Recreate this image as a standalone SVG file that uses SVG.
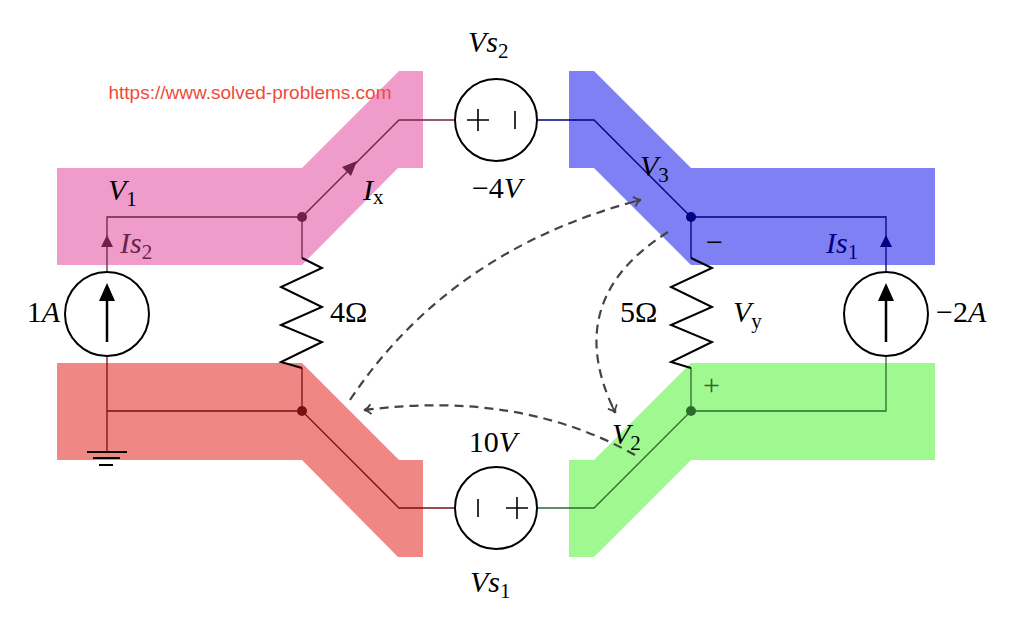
<svg xmlns="http://www.w3.org/2000/svg" width="1024" height="634" viewBox="0 0 1024 634">
<style>
.m{font-family:"Liberation Serif",serif;font-size:30px;font-style:italic}
.r{font-family:"Liberation Serif",serif;font-size:30px}
.s{font-size:21px;font-style:normal}
.w{fill:none;stroke-width:1.3}
.src{fill:#fff;stroke:#000;stroke-width:2}
.dash{fill:none;stroke:#444;stroke-width:2.2;stroke-dasharray:9,6}
</style>
<defs>
<marker id="ah" viewBox="0 0 12 12" refX="9" refY="6" markerWidth="12" markerHeight="12" markerUnits="userSpaceOnUse" orient="auto"><path d="M1,6 L10,6 M3,1 Q6,5 10,6 Q6,7 3,11" fill="none" stroke="#444" stroke-width="1.8"/></marker>
</defs>
<rect width="1024" height="634" fill="#fff"/>
<g id="bands">
<polygon points="57,168 302,168 399,71 423,71 423,168 398,168 302,265 57,265" fill="#ef9ccb"/>
<polygon points="57,363 302,363 399,460 423,460 423,557 398,557 302,460 57,460" fill="#ef8785"/>
<polygon points="569,71 594,71 691,168 935,168 935,265 691,265 594,168 569,168" fill="#8080f5"/>
<polygon points="691,363 935,363 935,460 691,460 594,557 569,557 569,460 594,460" fill="#a0f890"/>
</g>
<g id="wires">
<path class="w" stroke="#6d2347" d="M107,272 V217 H302 L399,120 H455 M302,217 V258"/>
<polygon points="357,161 351,176 342,167" fill="#6d2347"/>
<path d="M107,235 l-6,12 h12 z" fill="#6d2347"/>
<path class="w" stroke="#7a1010" d="M107,356 V452 M107,411 H302 V368 M302,411 L399,508 H455"/>
<path class="w" stroke="#000080" d="M537,120 H594 L691,217 H886 V272 M691,217 V258"/>
<path d="M886,235 l-6,12 h12 z" fill="#000080"/>
<path class="w" stroke="#2d6a2d" d="M691,368 V411 H886 V356 M691,411 L594,508 H537"/>
<path d="M87,452 H127 M93,458 H120 M99,465 H113" stroke="#000" stroke-width="2"/>
<circle cx="302" cy="217" r="5" fill="#6d2347"/>
<circle cx="302" cy="411" r="5" fill="#7a1010"/>
<circle cx="691" cy="217" r="5" fill="#000080"/>
<circle cx="691" cy="411" r="5" fill="#2d6a2d"/>
</g>
<g id="R4" fill="none" stroke="#000" stroke-width="2"><path d="M302,258 L322,268 L281,287 L322,307 L281,325 L322,342 L281,362 L302,368"/></g>
<g id="R5" fill="none" stroke="#000" stroke-width="2"><path d="M691,258 L712,268 L671,287 L712,307 L671,325 L712,342 L671,362 L691,368"/></g>
<g id="Is2"><circle class="src" cx="107" cy="314" r="42"/><path d="M107,342 V295" stroke="#000" stroke-width="2.5"/><path d="M107,283 l-8,18 h16 z"/></g>
<g id="Is1"><circle class="src" cx="886" cy="314" r="42"/><path d="M886,342 V295" stroke="#000" stroke-width="2.5"/><path d="M886,283 l-8,18 h16 z"/></g>
<g id="Vs2"><circle class="src" cx="496" cy="120" r="41"/><path d="M467,120 H489 M478,109 V131 M515,111 V129" stroke="#000" stroke-width="1.6"/></g>
<g id="Vs1"><circle class="src" cx="496" cy="508" r="41"/><path d="M478,499 V517 M506,508 H528 M517,497 V519" stroke="#000" stroke-width="1.6"/></g>
<g id="connectors">
<path class="dash" d="M350,400 Q450,250 640,200" marker-end="url(#ah)"/>
<path class="dash" d="M668,232 Q560,300 615,412" marker-end="url(#ah)"/>
<path class="dash" d="M635,455 Q520,390 365,410" marker-end="url(#ah)"/>
</g>
<g id="labels">
<text x="250" y="99" font-family="Liberation Sans,sans-serif" font-size="19" fill="#f04a3a" text-anchor="middle">https://www.solved-problems.com</text>
<text class="m" x="108" y="200">V<tspan class="s" dy="6">1</tspan></text>
<text class="m" x="120" y="253" fill="#6d2347">Is<tspan class="s" dy="6">2</tspan></text>
<text class="m" x="363" y="200">I<tspan class="s" dy="4">x</tspan></text>
<text class="r" x="330" y="322">4Ω</text>
<text class="m" x="60" y="322" text-anchor="end"><tspan font-style="normal">1</tspan>A</text>
<text class="m" x="468" y="52">Vs<tspan class="s" dy="6">2</tspan></text>
<text class="m" x="497" y="198" text-anchor="middle"><tspan font-style="normal">−4</tspan>V</text>
<text class="m" x="493" y="452" text-anchor="middle"><tspan font-style="normal">10</tspan>V</text>
<text class="m" x="470" y="592">Vs<tspan class="s" dy="6">1</tspan></text>
<text class="m" x="640" y="176">V<tspan class="s" dy="6">3</tspan></text>
<text class="r" x="706" y="252">−</text>
<text class="m" x="826" y="253" fill="#000080">Is<tspan class="s" dy="6">1</tspan></text>
<text class="r" x="620" y="322">5Ω</text>
<text class="m" x="733" y="322">V<tspan class="s" dy="6">y</tspan></text>
<text class="m" x="936" y="322"><tspan font-style="normal">−2</tspan>A</text>
<text class="r" x="703" y="395" fill="#2d6a2d">+</text>
<text class="m" x="612" y="444">V<tspan class="s" dy="6">2</tspan></text>
</g>
</svg>
